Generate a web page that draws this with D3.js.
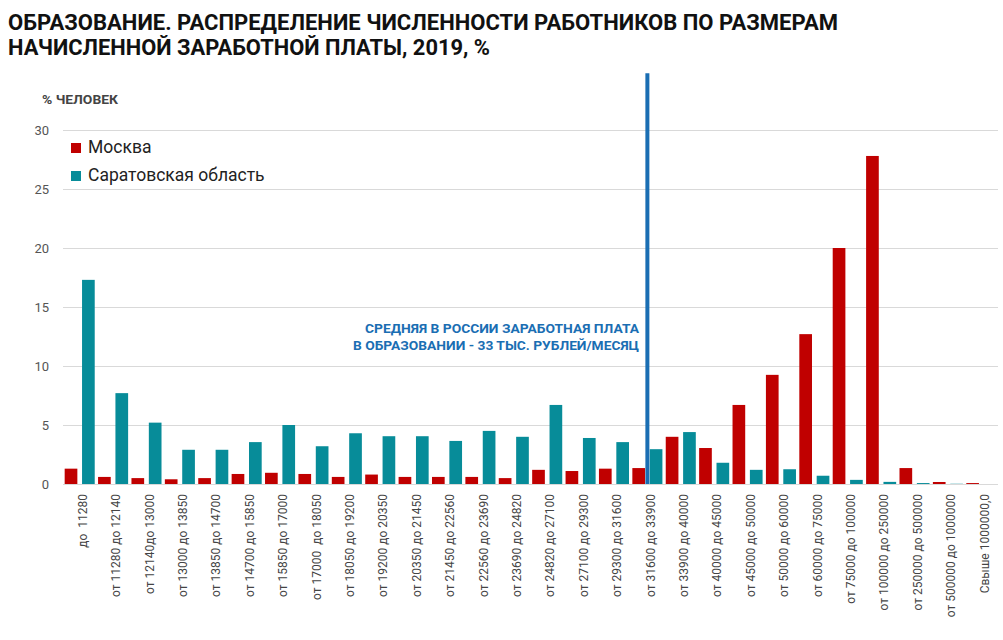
<!DOCTYPE html>
<html>
<head>
<meta charset="utf-8">
<script src="https://cdn.jsdelivr.net/npm/d3@7"></script>
<style>
  body { margin: 0; background: #fff; }
  text { font-family: Roboto, "Noto Sans", sans-serif; }
</style>
</head>
<body>
<script>
const categories = [
  "до  11280", "от 11280 до 12140", "от 12140до 13000", "от 13000 до 13850",
  "от 13850 до 14700", "от 14700 до 15850", "от 15850 до 17000", "от 17000  до 18050",
  "от 18050 до 19200", "от 19200 до 20350", "от 20350 до 21450", "от 21450 до 22560",
  "от 22560 до 23690", "от 23690 до 24820", "от 24820 до 27100", "от 27100 до 29300",
  "от 29300 до 31600", "от 31600 до 33900", "от 33900 до 40000", "от 40000 до 45000",
  "от 45000 до 50000", "от 50000 до 60000", "от 60000 до 75000", "от 75000 до 100000",
  "от 100000 до 250000", "от 250000 до 500000", "от 500000 до 1000000", "Свыше 1000000,0"
];
const moscow = [1.3, 0.6, 0.5, 0.4, 0.5, 0.85, 0.95, 0.85, 0.6, 0.8, 0.6, 0.6, 0.6, 0.5,
  1.2, 1.1, 1.3, 1.35, 4.0, 3.05, 6.7, 9.25, 12.7, 20.0, 27.8, 1.35, 0.17, 0.08];
const saratov = [17.3, 7.7, 5.2, 2.9, 2.9, 3.55, 5.0, 3.2, 4.3, 4.05, 4.05, 3.65, 4.5, 4.0,
  6.7, 3.9, 3.55, 2.95, 4.4, 1.8, 1.2, 1.25, 0.7, 0.35, 0.18, 0.08, 0.02, 0];
const seriesNames = ["Москва", "Саратовская область"];
const seriesColors = ["#c00000", "#078c99"];
const yTicks = [0, 5, 10, 15, 20, 25, 30];
const avgCategory = "от 31600 до 33900";
const avgLineTop = 34.8;
const titleLines = [
  "ОБРАЗОВАНИЕ. РАСПРЕДЕЛЕНИЕ ЧИСЛЕННОСТИ РАБОТНИКОВ ПО РАЗМЕРАМ",
  "НАЧИСЛЕННОЙ ЗАРАБОТНОЙ ПЛАТЫ, 2019, %"
];
const noteLines = [
  "СРЕДНЯЯ В РОССИИ ЗАРАБОТНАЯ ПЛАТА",
  "В ОБРАЗОВАНИИ - 33 ТЫС. РУБЛЕЙ/МЕСЯЦ"
];

const width = 1003, height = 640;
const plotLeft = 63, plotRight = 998, plotTop = 130, plotBottom = 484;

const svg = d3.select('body').append('svg')
  .attr('width', width)
  .attr('height', height)
  .style('background', '#fff');

// title
const titleWidths = [830, 482];
titleLines.forEach((t, i) => {
  svg.append('text')
    .attr('x', 8)
    .attr('y', 30 + i * 25)
    .attr('textLength', titleWidths[i])
    .attr('lengthAdjust', 'spacingAndGlyphs')
    .style('font-size', '22px')
    .style('font-weight', 'bold')
    .style('fill', '#111')
    .text(t);
});

svg.append('text')
  .attr('x', 42)
  .attr('y', 104)
  .attr('textLength', 76)
  .attr('lengthAdjust', 'spacingAndGlyphs')
  .style('font-size', '12.5px')
  .style('font-weight', 'bold')
  .style('fill', '#444')
  .text('% ЧЕЛОВЕК');

const x0 = d3.scaleBand()
  .domain(categories)
  .range([plotLeft, plotRight])
  .paddingInner(0.1)
  .paddingOuter(0.05);

const x1 = d3.scaleBand()
  .domain([0, 1])
  .range([0, x0.bandwidth()])
  .paddingInner(0.27);

const y = d3.scaleLinear()
  .domain([0, 30])
  .range([plotBottom, plotTop]);

// grid + y labels
svg.append('g')
  .call(d3.axisLeft(y).tickValues(yTicks).tickSize(-(plotRight - plotLeft)).tickPadding(14))
  .attr('transform', `translate(${plotLeft},0)`)
  .call(g => g.select('.domain').remove())
  .call(g => g.selectAll('.tick line').attr('stroke', '#d9d9d9'))
  .call(g => g.selectAll('.tick text')
    .style('font-size', '13px').style('fill', '#555')
    .style('font-family', 'Roboto, sans-serif'));

// bars
const series = [moscow, saratov];
series.forEach((vals, si) => {
  svg.append('g').selectAll('rect')
    .data(categories)
    .join('rect')
    .attr('x', (d, i) => x0(d) + x1(si))
    .attr('width', x1.bandwidth())
    .attr('y', (d, i) => y(vals[i]))
    .attr('height', (d, i) => y(0) - y(vals[i]))
    .attr('fill', seriesColors[si]);
});

// x labels
svg.append('g').selectAll('text')
  .data(categories)
  .join('text')
  .attr('transform', d => `translate(${x0(d) + x0.bandwidth() / 2 + 3},494) rotate(-90)`)
  .attr('text-anchor', 'end')
  .attr('dy', '0.35em')
  .style('font-size', '12px')
  .style('fill', '#444')
  .style('white-space', 'pre')
  .text(d => d);

// average line
const ax = x0(avgCategory) + x0.bandwidth() / 2;
svg.append('line')
  .attr('x1', ax).attr('x2', ax)
  .attr('y1', y(avgLineTop)).attr('y2', y(0))
  .attr('stroke', '#1a6eb3')
  .attr('stroke-width', 4);

const noteWidths = [274, 286];
noteLines.forEach((t, i) => {
  svg.append('text')
    .attr('x', 639)
    .attr('y', 333 + i * 17)
    .attr('text-anchor', 'end')
    .attr('textLength', noteWidths[i])
    .attr('lengthAdjust', 'spacingAndGlyphs')
    .style('font-size', '13px')
    .style('font-weight', 'bold')
    .style('fill', '#1a6eb3')
    .text(t);
});

// legend
const legend = svg.append('g');
seriesNames.forEach((name, i) => {
  legend.append('rect')
    .attr('x', 71).attr('y', 143 + i * 28)
    .attr('width', 10).attr('height', 10)
    .attr('fill', seriesColors[i]);
  legend.append('text')
    .attr('x', 88).attr('y', 153 + i * 28)
    .style('font-size', '17.5px')
    .style('fill', '#222')
    .text(name);
});
</script>
</body>
</html>
